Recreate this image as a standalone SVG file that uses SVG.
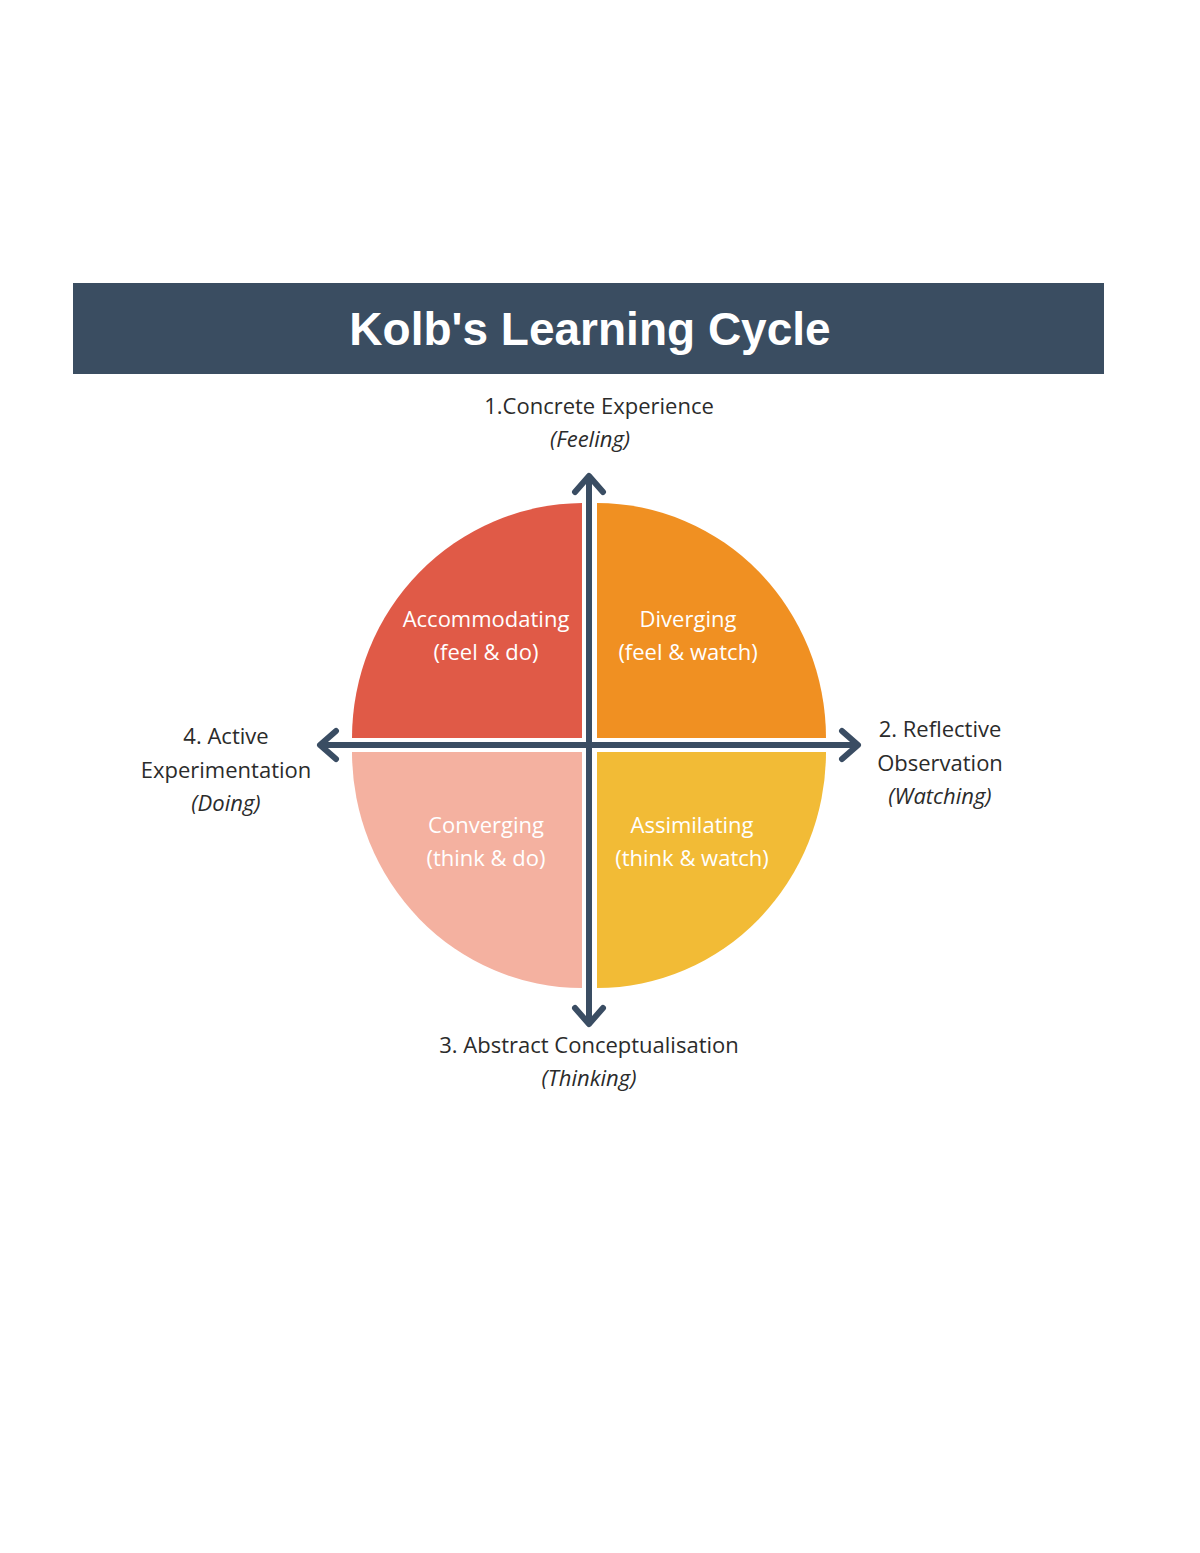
<svg xmlns="http://www.w3.org/2000/svg" width="1200" height="1553" viewBox="0 0 1200 1553">
<style>
.t{font-family:"Open Sans","Liberation Sans",sans-serif;font-size:22px;fill:#2b2b2b;text-anchor:middle}
.i{font-style:italic}
.q{font-family:"Open Sans","Liberation Sans",sans-serif;font-size:22px;fill:#fff;text-anchor:middle}
.ax{stroke:#3a4d63;stroke-width:6;fill:none;stroke-linecap:round;stroke-linejoin:round}
</style>
<rect width="1200" height="1553" fill="#fff"/>
<g id="title"><rect x="73" y="283" width="1031" height="91" fill="#3a4d61"/>
<text x="590" y="345" font-family="Liberation Sans,Arial,sans-serif" font-size="46" font-weight="bold" fill="#fff" text-anchor="middle">Kolb's Learning Cycle</text></g>
<g id="accommodating"><path d="M582,738 L352,738 A232,235 0 0 1 582,503 Z" fill="#e05a47"/><text class="q" x="486" y="627">Accommodating</text><text class="q" x="486" y="660">(feel &amp; do)</text></g>
<g id="diverging"><path d="M597,738 L597,503 A229,235 0 0 1 826,738 Z" fill="#f09022"/><text class="q" x="688" y="627">Diverging</text><text class="q" x="688" y="660">(feel &amp; watch)</text></g>
<g id="converging"><path d="M582,752 L582,988 A230,236 0 0 1 352,752 Z" fill="#f4b1a0"/><text class="q" x="486" y="833">Converging</text><text class="q" x="486" y="866">(think &amp; do)</text></g>
<g id="assimilating"><path d="M597,752 L826,752 A229,236 0 0 1 597,988 Z" fill="#f2bb36"/><text class="q" x="692" y="833">Assimilating</text><text class="q" x="692" y="866">(think &amp; watch)</text></g>
<g id="connectors">
<path class="ax" d="M589,478 L589,1022 M575,492 L589,476 L603,492 M575,1008 L589,1024 L603,1008"/>
<path class="ax" d="M322,745 L856,745 M336,731 L320,745 L336,759 M842,731 L858,745 L842,759"/>
</g>
<g id="ce"><text class="t" x="599" y="414">1.Concrete Experience</text><text class="t i" x="590" y="447">(Feeling)</text></g>
<g id="ro"><text class="t" x="940" y="737">2. Reflective</text><text class="t" x="940" y="771">Observation</text><text class="t i" x="940" y="804">(Watching)</text></g>
<g id="ac"><text class="t" x="589" y="1053">3. Abstract Conceptualisation</text><text class="t i" x="589" y="1086">(Thinking)</text></g>
<g id="ae"><text class="t" x="226" y="744">4. Active</text><text class="t" x="226" y="778">Experimentation</text><text class="t i" x="226" y="811">(Doing)</text></g>
</svg>
